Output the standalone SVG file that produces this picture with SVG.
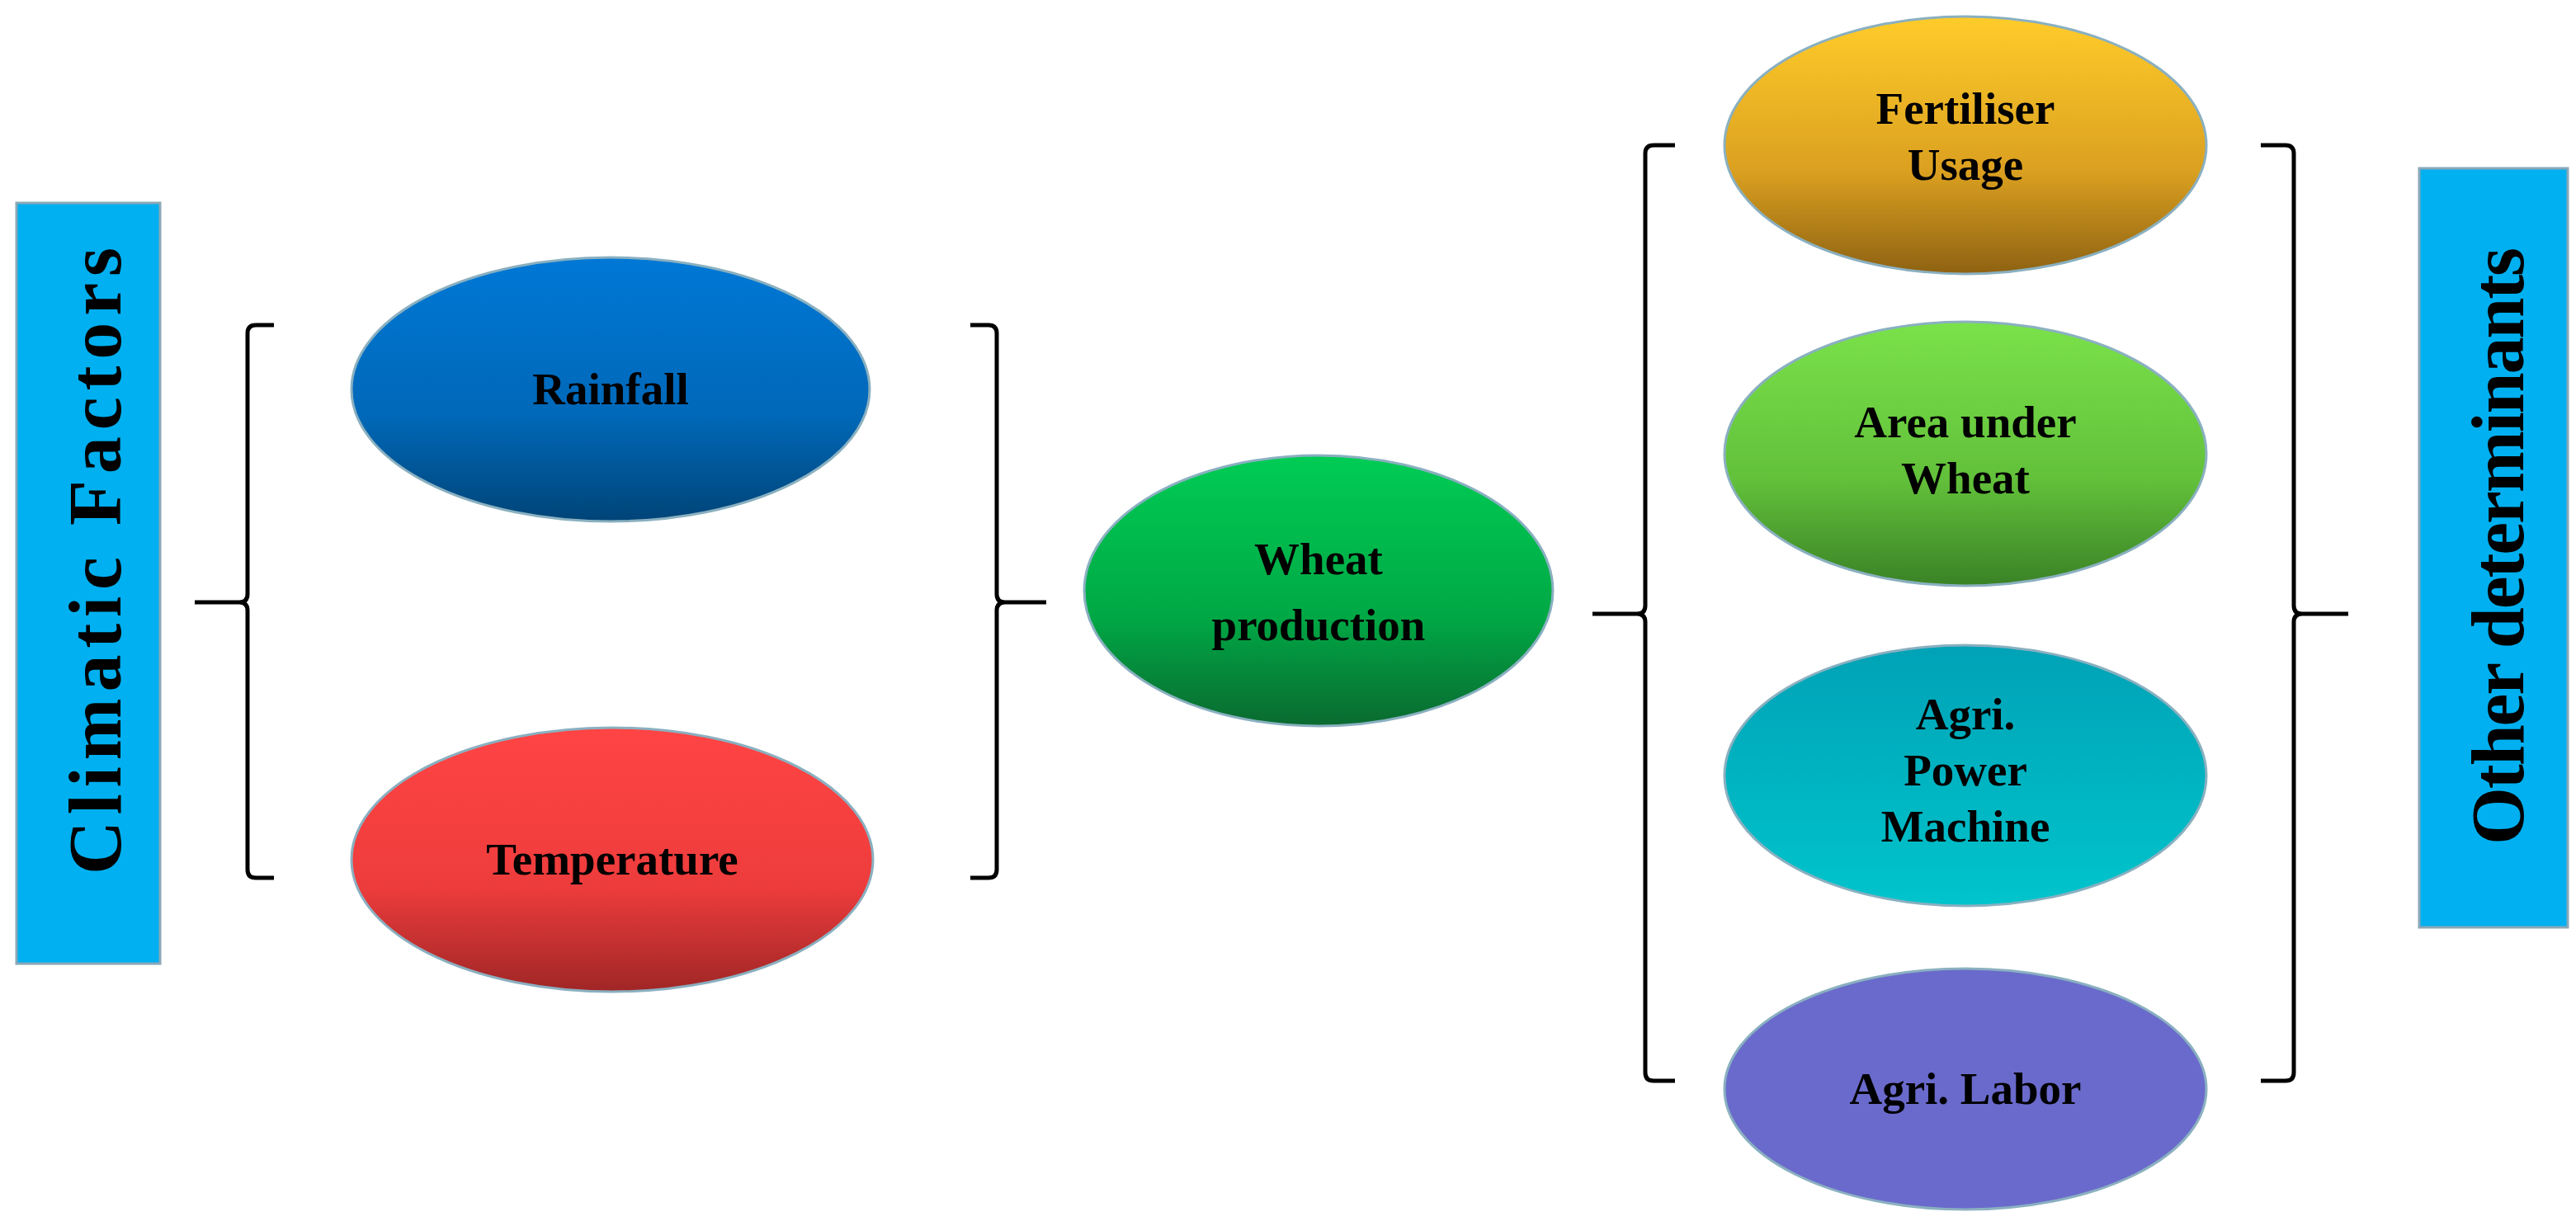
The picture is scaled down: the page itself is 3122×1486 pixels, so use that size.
<svg xmlns="http://www.w3.org/2000/svg" width="3122" height="1486" viewBox="0 0 3122 1486">
<style>
.t{font-family:"Liberation Serif",serif;font-weight:bold;font-size:55px;fill:#000;text-anchor:middle}
.v{font-family:"Liberation Serif",serif;font-weight:bold;font-size:90px;fill:#000;text-anchor:middle}
.box{fill:#00b0f0;stroke:#8aa8b8;stroke-width:3}
.el{stroke:#8ab0c0;stroke-width:3}
.br{fill:none;stroke:#000;stroke-width:5}
</style>
<defs>
<linearGradient id="gR" x1="0" y1="0" x2="0" y2="1"><stop offset="0" stop-color="#0078d6"/><stop offset="0.6" stop-color="#0068b8"/><stop offset="1" stop-color="#004478"/></linearGradient>
<linearGradient id="gT" x1="0" y1="0" x2="0" y2="1"><stop offset="0" stop-color="#ff4444"/><stop offset="0.6" stop-color="#ee3c3c"/><stop offset="1" stop-color="#a02626"/></linearGradient>
<linearGradient id="gW" x1="0" y1="0" x2="0" y2="1"><stop offset="0" stop-color="#00cc55"/><stop offset="0.6" stop-color="#00a845"/><stop offset="1" stop-color="#0a6a30"/></linearGradient>
<linearGradient id="gF" x1="0" y1="0" x2="0" y2="1"><stop offset="0" stop-color="#ffcc2a"/><stop offset="0.6" stop-color="#dba020"/><stop offset="1" stop-color="#8e6212"/></linearGradient>
<linearGradient id="gA" x1="0" y1="0" x2="0" y2="1"><stop offset="0" stop-color="#7ae24a"/><stop offset="0.6" stop-color="#62c03a"/><stop offset="1" stop-color="#3a8226"/></linearGradient>
<linearGradient id="gP" x1="0" y1="0" x2="0" y2="1"><stop offset="0" stop-color="#00a2b6"/><stop offset="1" stop-color="#00c4cc"/></linearGradient>
</defs>
<g id="climatic-factors"><rect class="box" x="20" y="246" width="174" height="922"/><text class="v" transform="translate(146 680) rotate(-90)" textLength="760" lengthAdjust="spacing">Climatic  Factors</text></g>
<g id="other-determinants"><rect class="box" x="2932" y="204" width="180" height="920"/><text class="v" transform="translate(3058 662) rotate(-90)" textLength="724" lengthAdjust="spacing">Other determinants</text></g>
<g id="rainfall"><ellipse class="el" cx="740" cy="472" rx="314" ry="160" fill="url(#gR)"/><text class="t" x="740" y="490">Rainfall</text></g>
<g id="temperature"><ellipse class="el" cx="742" cy="1042" rx="316" ry="160" fill="url(#gT)"/><text class="t" x="742" y="1060">Temperature</text></g>
<g id="wheat-production"><ellipse class="el" cx="1598" cy="716" rx="284" ry="164" fill="url(#gW)"/><text class="t" x="1598" y="696">Wheat</text><text class="t" x="1598" y="776">production</text></g>
<g id="fertiliser"><ellipse class="el" cx="2382" cy="176" rx="292" ry="156" fill="url(#gF)"/><text class="t" x="2382" y="150">Fertiliser</text><text class="t" x="2382" y="218">Usage</text></g>
<g id="area"><ellipse class="el" cx="2382" cy="550" rx="292" ry="160" fill="url(#gA)"/><text class="t" x="2382" y="530">Area under</text><text class="t" x="2382" y="598">Wheat</text></g>
<g id="power"><ellipse class="el" cx="2382" cy="940" rx="292" ry="158" fill="url(#gP)"/><text class="t" x="2382" y="884">Agri.</text><text class="t" x="2382" y="952">Power</text><text class="t" x="2382" y="1020">Machine</text></g>
<g id="labor"><ellipse class="el" cx="2382" cy="1320" rx="292" ry="146" fill="#6a6acc"/><text class="t" x="2382" y="1338">Agri. Labor</text></g>
<g id="connectors">
<path class="br" d="M332 394 H310 Q300 394 300 404 V720 Q300 730 290 730 H236 M290 730 Q300 730 300 740 V1054 Q300 1064 310 1064 H332"/>
<path class="br" d="M1176 394 H1198 Q1208 394 1208 404 V720 Q1208 730 1218 730 H1268 M1218 730 Q1208 730 1208 740 V1054 Q1208 1064 1198 1064 H1176"/>
<path class="br" d="M2030 176 H2004 Q1994 176 1994 186 V734 Q1994 744 1984 744 H1930 M1984 744 Q1994 744 1994 754 V1300 Q1994 1310 2004 1310 H2030"/>
<path class="br" d="M2740 176 H2770 Q2780 176 2780 186 V734 Q2780 744 2790 744 H2846 M2790 744 Q2780 744 2780 754 V1300 Q2780 1310 2770 1310 H2740"/>
</g>
</svg>
